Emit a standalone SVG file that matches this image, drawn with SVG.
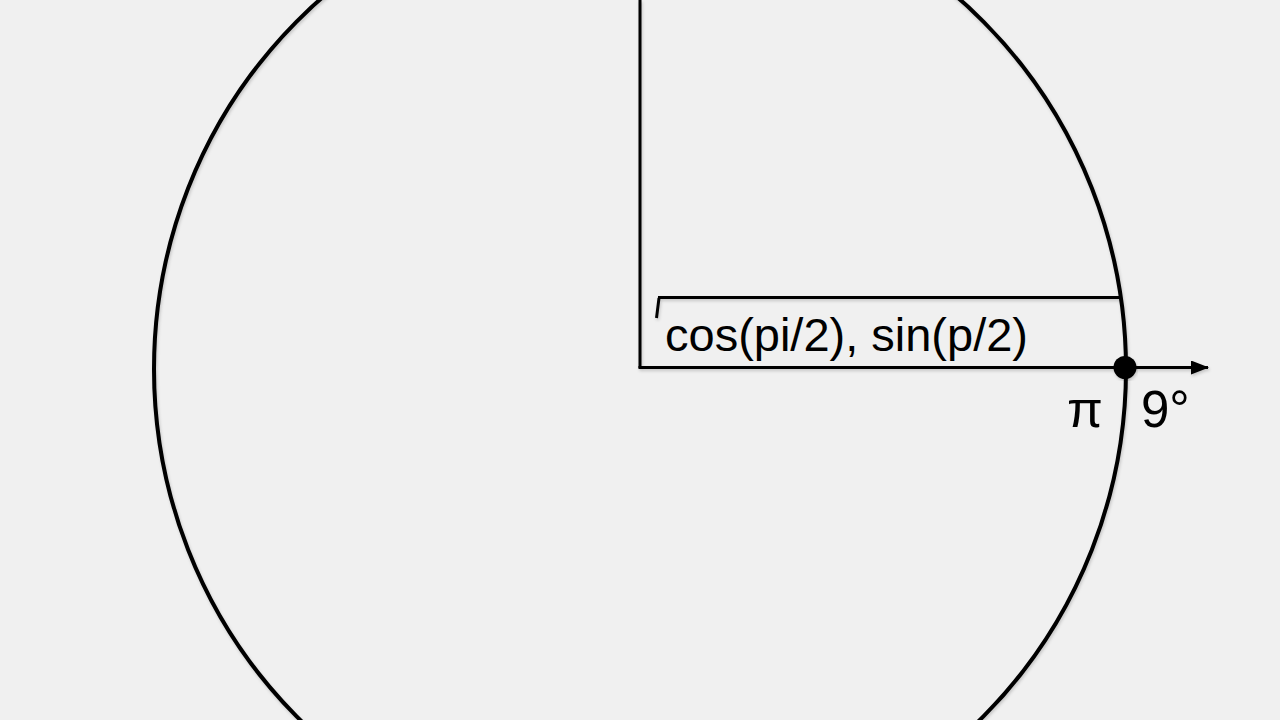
<svg xmlns="http://www.w3.org/2000/svg" width="1280" height="720" viewBox="0 0 1280 720">
  <defs>
    <filter id="sh" x="-5%" y="-5%" width="110%" height="110%">
      <feDropShadow dx="1" dy="2" stdDeviation="1.5" flood-color="#000" flood-opacity="0.18"/>
    </filter>
    <marker id="arrow" viewBox="0 0 18 14" refX="17" refY="7" markerWidth="18" markerHeight="14" markerUnits="userSpaceOnUse" orient="auto">
      <path d="M0,0 L18,7 L0,14 Z" fill="#000"/>
    </marker>
  </defs>
  <style>
    .ln { fill: none; stroke: #000; stroke-width: 3; }
    .circ { fill: none; stroke: #000; stroke-width: 4; }
    .lbl { font-family: "Liberation Sans", Arial, sans-serif; fill: #000; }
  </style>
  <rect width="1280" height="720" fill="#f0f0f0"/>
  <g id="unit-circle" filter="url(#sh)">
    <ellipse class="circ" cx="640" cy="369" rx="486" ry="491"/>
  </g>
  <g id="connectors" filter="url(#sh)">
    <line id="y-axis" class="ln" x1="640" y1="0" x2="640" y2="368"/>
    <line id="x-axis" class="ln" x1="638.5" y1="367.5" x2="1208" y2="367.5" marker-end="url(#arrow)"/>
    <line id="box-top" class="ln" x1="658" y1="297.5" x2="1120" y2="297.5"/>
    <line id="box-tick" class="ln" stroke-width="2" x1="659" y1="298" x2="656.5" y2="318"/>
  </g>
  <g id="coord-label">
    <text class="lbl" x="665" y="351" font-size="47" textLength="363" lengthAdjust="spacingAndGlyphs">cos(pi/2), sin(p/2)</text>
  </g>
  <g id="point" filter="url(#sh)">
    <circle cx="1125" cy="367.5" r="11.5" fill="#000"/>
  </g>
  <g id="pi-label">
    <text class="lbl" x="1067" y="427" font-size="52">π</text>
  </g>
  <g id="deg-label">
    <text class="lbl" x="1141" y="427" font-size="51">9°</text>
  </g>
</svg>
